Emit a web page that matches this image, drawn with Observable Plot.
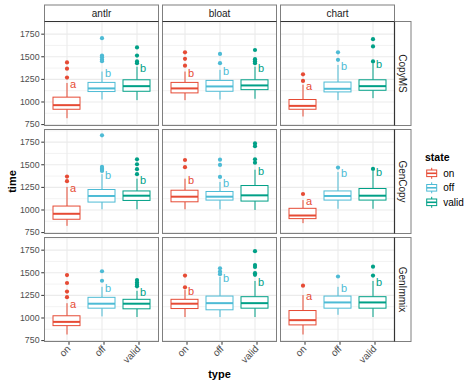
<!DOCTYPE html>
<html><head><meta charset="utf-8">
<script src="https://cdn.jsdelivr.net/npm/d3@7"></script>
<script src="https://cdn.jsdelivr.net/npm/@observablehq/plot@0.6"></script>
<style>
body{margin:0;background:#fff;}
#chart svg{display:block;}
</style></head><body><div id="chart"></div>
<script>
// ---- data ----
const benchmarks = ["antlr", "bloat", "chart"];
const collectors = ["CopyMS", "GenCopy", "GenImmix"];
const types = ["on", "off", "valid"];
const yTicks = [750, 1000, 1250, 1500, 1750];
const yMinorTicks = [875, 1125, 1375, 1625, 1875];
// order: collector -> benchmark -> type
const lowerWhisker = [815,1022,1015, 1015,1022,1030, 834,1015,1037,
                      819,1002,1002, 1002,1002,995, 849,1008,1008,
                      812,1012,1005, 1005,1005,1005, 812,1030,1005];
const q1 = [914,1110,1113, 1095,1113,1131, 914,1106,1124,
            892,1082,1100, 1085,1104,1093, 899,1104,1104,
            910,1103,1096, 1099,1085,1103, 918,1103,1103];
const median = [965,1150,1175, 1150,1172,1183, 957,1146,1175,
                958,1155,1158, 1147,1147,1162, 939,1155,1158,
                957,1158,1158, 1158,1164,1164, 976,1172,1172];
const q3 = [1048,1211,1240, 1211,1233,1240, 1022,1215,1240,
            1038,1221,1205, 1213,1199,1265, 1013,1205,1232,
            1019,1223,1201, 1201,1237,1230, 1077,1237,1230];
const upperWhisker = [1205,1331,1385, 1331,1350,1385, 1186,1404,1422,
                      1249,1390,1341, 1341,1304,1440, 1104,1414,1425,
                      1158,1339,1295, 1303,1448,1404, 1248,1339,1404];
const outliers = [
  [1437,1368,1270], [1706,1513,1494,1469,1451], [1603,1513,1448,1429],
  [1549,1477,1401], [1531,1429], [1575,1473,1451,1429],
  [1306,1233], [1549,1466], [1695,1614,1448],
  [1370,1319], [1826,1476,1457,1445,1432], [1560,1506,1451,1396],
  [1553,1473], [1556,1498,1366], [1736,1706,1560,1523],
  [1177], [1469], [1454],
  [1474,1387,1292,1230], [1517,1412], [1419,1393,1368,1350],
  [1469,1339], [1550,1513,1485], [1739,1586,1564,1496,1477],
  [1357], [1459], [1567,1469]
];
const letters = ["a","b","b", "b","b","b", "a","b","b",
                 "a","b","b", "b","b","b", "a","b","b",
                 "a","b","b", "b","b","b", "a","b","b"];
const colors = ["#E64B35", "#4DBBD5", "#00A087"];

// ---- tables built from the arrays ----
const boxes = [];
let k = 0;
for (const c of collectors) for (const b of benchmarks) for (const t of types) {
  boxes.push({collector: c, benchmark: b, type: t, lw: lowerWhisker[k], q1: q1[k],
              med: median[k], q3: q3[k], uw: upperWhisker[k], letter: letters[k], out: outliers[k]});
  k++;
}
const outs = boxes.flatMap(d => d.out.map(v => ({collector: d.collector, benchmark: d.benchmark, type: d.type, v})));

const FONT = "'Liberation Sans', Arial, Helvetica, sans-serif";
const W = 474, H = 383;
const fc = {fx: "benchmark", fy: "collector"};

const plot = Plot.plot({
  width: W, height: H,
  marginLeft: 44, marginRight: 79.5, marginTop: 21, marginBottom: 42,
  style: {fontFamily: FONT, fontSize: "8.8px", background: "#fff", overflow: "visible"},
  fx: {domain: benchmarks, paddingInner: 0.038, paddingOuter: 0, axis: null, label: null},
  fy: {domain: collectors, paddingInner: 0.038, paddingOuter: 0, axis: null, label: null},
  x: {domain: types, paddingInner: 0.24, paddingOuter: 0.22, label: null},
  y: {domain: [740, 1890], label: null},
  color: {domain: types, range: colors},
  marks: [
    Plot.ruleY(yMinorTicks, {stroke: "#ebebeb", strokeWidth: 0.6}),
    Plot.ruleY(yTicks, {stroke: "#ebebeb", strokeWidth: 1.1}),
    Plot.ruleX(types, {stroke: "#ebebeb", strokeWidth: 1.1}),
    Plot.ruleX(boxes, {...fc, x: "type", y1: "lw", y2: "q1", stroke: "type", strokeWidth: 1}),
    Plot.ruleX(boxes, {...fc, x: "type", y1: "q3", y2: "uw", stroke: "type", strokeWidth: 1}),
    Plot.barY(boxes, {...fc, x: "type", y1: "q1", y2: "q3", fill: "white", stroke: "type", strokeWidth: 1}),
    Plot.tickY(boxes, {...fc, x: "type", y: "med", stroke: "type", strokeWidth: 2}),
    Plot.dot(outs, {...fc, x: "type", y: "v", fill: "type", r: 2.1}),
    Plot.text(boxes, {...fc, x: "type", y: "uw", text: "letter", fill: "type", fontSize: 11,
                      textAnchor: "start", dx: 3, dy: 1}),
    Plot.frame({stroke: "#7f7f7f", strokeWidth: 1}),
    Plot.axisY(yTicks, {tickSize: 2.75, tickPadding: 2.2, stroke: "#333", fill: "#4d4d4d",
                        fontSize: 8.8, label: null, tickFormat: d => String(d)}),
    Plot.axisX({tickSize: 2.75, tickPadding: 2, tickRotate: -45, stroke: "#333", fill: "#4d4d4d",
                fontSize: 9.8, label: null, dx: 2, dy: 1})
  ]
});
document.getElementById("chart").appendChild(plot);

// ---- strips, titles, legend ----
const svg = d3.select(plot);
const sb = plot.getBoundingClientRect();
const panels = Array.from(plot.querySelectorAll('g[aria-label="frame"] rect')).map(r => {
  const b = r.getBoundingClientRect();
  return {x: b.left - sb.left, y: b.top - sb.top, w: b.width, h: b.height};
});
const minY = d3.min(panels, p => p.y), maxX = d3.max(panels, p => p.x);
const topPanels = panels.filter(p => Math.abs(p.y - minY) < 2).sort((a, b) => a.x - b.x);
const rightPanels = panels.filter(p => Math.abs(p.x - maxX) < 2).sort((a, b) => a.y - b.y);
const S = 16.5;
const g = svg.append("g").attr("font-family", FONT).attr("text-anchor", "start");
topPanels.forEach((p, i) => {
  g.append("rect").attr("x", p.x).attr("y", p.y - S).attr("width", p.w).attr("height", S)
    .attr("fill", "white").attr("stroke", "#7f7f7f");
  g.append("line").attr("x1", p.x).attr("x2", p.x + p.w).attr("y1", p.y).attr("y2", p.y)
    .attr("stroke", "#333").attr("stroke-width", 1.2);
  g.append("text").attr("x", p.x + p.w / 2).attr("y", p.y - S / 2).attr("text-anchor", "middle")
    .attr("dominant-baseline", "central").attr("font-size", 10).attr("fill", "#1a1a1a").text(benchmarks[i]);
});
rightPanels.forEach((p, i) => {
  const x0 = p.x + p.w;
  g.append("rect").attr("x", x0).attr("y", p.y).attr("width", S).attr("height", p.h)
    .attr("fill", "white").attr("stroke", "#7f7f7f");
  g.append("line").attr("x1", x0).attr("x2", x0).attr("y1", p.y).attr("y2", p.y + p.h)
    .attr("stroke", "#333").attr("stroke-width", 1.2);
  g.append("text").attr("transform", `translate(${x0 + S / 2},${p.y + p.h / 2}) rotate(90)`)
    .attr("text-anchor", "middle").attr("dominant-baseline", "central").attr("font-size", 10)
    .attr("fill", "#1a1a1a").text(collectors[i]);
});
const pLeft = d3.min(panels, p => p.x), pRight = d3.max(panels, p => p.x + p.w);
const pTop = minY, pBottom = d3.max(panels, p => p.y + p.h);
g.append("text").attr("transform", `translate(12,${(pTop + pBottom) / 2}) rotate(-90)`)
  .attr("text-anchor", "middle").attr("dominant-baseline", "central")
  .attr("font-size", 11).attr("font-weight", "bold").attr("fill", "#000").text("time");
g.append("text").attr("x", (pLeft + pRight) / 2).attr("y", 374).attr("text-anchor", "middle")
  .attr("dominant-baseline", "central").attr("font-size", 11).attr("font-weight", "bold")
  .attr("fill", "#000").text("type");

// legend
const lg = g.append("g").attr("text-anchor", "start");
lg.append("text").attr("x", 425).attr("y", 157).attr("dominant-baseline", "central")
  .attr("font-size", 10.5).attr("font-weight", "bold").attr("fill", "#000").text("state");
types.forEach((t, i) => {
  const cy = 173.3 + i * 14.5, cx = 431.7, c = colors[i];
  lg.append("line").attr("x1", cx).attr("x2", cx).attr("y1", cy - 5.5).attr("y2", cy + 5.5).attr("stroke", c);
  lg.append("rect").attr("x", cx - 5).attr("y", cy - 3.3).attr("width", 10).attr("height", 6.6)
    .attr("fill", "white").attr("stroke", c);
  lg.append("line").attr("x1", cx - 5).attr("x2", cx + 5).attr("y1", cy).attr("y2", cy)
    .attr("stroke", c).attr("stroke-width", 1.6);
  lg.append("text").attr("x", 443.3).attr("y", cy).attr("dominant-baseline", "central")
    .attr("font-size", 10).attr("fill", "#000").text(t);
});
</script></body></html>
